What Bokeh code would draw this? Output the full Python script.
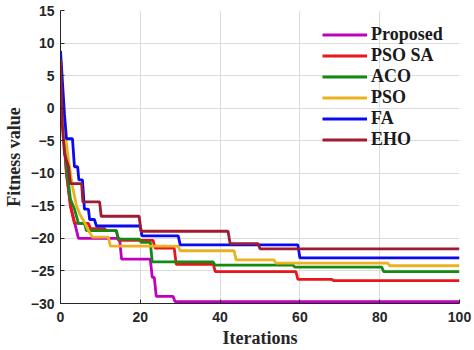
from bokeh.plotting import figure
from bokeh.models import Range1d, FixedTicker, Legend, LegendItem
from bokeh.embed import file_html
from bokeh.resources import INLINE

# ---- data ----
names = ["Proposed", "PSO SA", "ACO", "PSO", "FA", "EHO"]

proposed_x = [0, 0.7, 1.5, 2.5, 3.5, 4.5, 14.8, 15.3, 22.5, 23, 23.5, 24, 28.2, 28.7, 100]
proposed_y = [7.5, -3, -10, -15, -17.5, -20, -20, -23.2, -23.2, -26, -26, -28.9, -28.9, -29.7, -29.7]

psosa_x = [0, 0.6, 1.5, 2.5, 3.5, 7, 7.5, 11, 11.5, 14, 14.5, 23.2, 23.7, 28.5, 29, 38.3, 38.8, 59, 59.5, 68, 68.5, 100]
psosa_y = [8, -3, -10, -15, -17.7, -17.7, -18.5, -18.5, -18.8, -18.8, -20.3, -20.3, -21.5, -21.5, -24.0, -24.0, -25.1, -25.1, -26.3, -26.3, -26.5, -26.5]

aco_x = [0, 0.7, 1.5, 2.5, 3.5, 4.5, 6, 6.5, 14, 14.5, 19.7, 20.2, 22.5, 23, 38.2, 38.7, 58.2, 58.7, 80.5, 81, 100]
aco_y = [6, -3, -9, -14, -15.5, -17.7, -17.7, -18.8, -18.8, -20.1, -20.1, -20.6, -20.6, -23.6, -23.6, -24.1, -24.1, -24.4, -24.4, -25.1, -25.1]

pso_x = [0, 1, 2, 3, 4, 5, 6, 7, 8, 12, 12.5, 29.5, 30, 43.5, 44, 53.5, 54, 82, 82.5, 100]
pso_y = [7, -3, -8, -12, -15, -16.5, -17.5, -18.8, -19.8, -19.8, -21.2, -21.2, -21.9, -21.9, -23.3, -23.3, -23.8, -23.8, -24.2, -24.2]

fa_x = [0, 1, 1.5, 3, 3.5, 4.3, 4.6, 5.5, 6, 7, 7.3, 8.5, 9, 20, 20.4, 29.5, 30, 59.5, 60, 100]
fa_y = [8.8, -1, -4.7, -4.7, -9, -9, -11, -11, -15.5, -15.5, -17.1, -17.1, -18.1, -18.1, -19.6, -19.6, -21.0, -21.0, -23.0, -23.0]

eho_x = [0, 0.5, 1, 2, 2.5, 5.3, 5.6, 9.8, 10.2, 19.7, 20.2, 42, 42.5, 49.5, 50, 100]
eho_y = [7.5, -3, -7, -9, -11.6, -11.6, -14.4, -14.4, -16.6, -16.6, -18.9, -18.9, -20.8, -20.8, -21.6, -21.6]

x_ticks = [0, 20, 40, 60, 80, 100]
y_ticks = [-30, -25, -20, -15, -10, -5, 0, 5, 10, 15]

series = [
    (proposed_x, proposed_y, "#BF00BF"),
    (psosa_x, psosa_y, "#E8161B"),
    (aco_x, aco_y, "#138A13"),
    (pso_x, pso_y, "#EDB120"),
    (fa_x, fa_y, "#0A0AF0"),
    (eho_x, eho_y, "#9E1B32"),
]

p = figure(width=474, height=350, output_backend="svg", toolbar_location=None,
           x_range=Range1d(0, 100), y_range=Range1d(-30, 15),
           min_border_left=55, min_border_right=15, min_border_top=10, min_border_bottom=47)
p.outline_line_color = None
p.background_fill_color = "white"
p.border_fill_color = "white"

items = []
for (xs, ys, col), name in zip(series, names):
    r = p.line(xs, ys, line_color=col, line_width=2.8)
    items.append(LegendItem(label=name, renderers=[r]))

for ax in (p.xaxis[0], p.yaxis[0]):
    ax.major_tick_in = 4
    ax.major_tick_out = 0
    ax.minor_tick_in = 0
    ax.minor_tick_out = 0
    ax.axis_line_color = "#262626"
    ax.major_tick_line_color = "#262626"
    ax.major_label_text_font = "Liberation Sans"
    ax.major_label_text_font_style = "bold"
    ax.major_label_text_font_size = "14px"
    ax.major_label_text_color = "#262626"
    ax.axis_label_text_font = "Liberation Serif"
    ax.axis_label_text_font_style = "bold"
    ax.axis_label_text_font_size = "18px"
    ax.axis_label_text_color = "#262626"

p.xaxis[0].ticker = FixedTicker(ticks=x_ticks)
p.yaxis[0].ticker = FixedTicker(ticks=y_ticks)
p.xaxis[0].axis_label = "Iterations"
p.yaxis[0].axis_label = "Fitness value"
p.xaxis[0].major_label_standoff = 8
p.yaxis[0].major_label_standoff = 6
p.xaxis[0].axis_label_standoff = 3
p.yaxis[0].axis_label_standoff = 4

for g in (p.xgrid[0], p.ygrid[0]):
    g.grid_line_color = "#dcdcdc"
    g.grid_line_width = 1

legend = Legend(items=items, location=(262, 153))
legend.background_fill_alpha = 0
legend.border_line_color = None
legend.padding = 0
legend.margin = 0
legend.spacing = 0
legend.glyph_width = 45
legend.glyph_height = 21
legend.label_height = 21
legend.label_standoff = 4
legend.label_text_font = "Liberation Serif"
legend.label_text_font_style = "bold"
legend.label_text_font_size = "18px"
legend.label_text_color = "#1a1a1a"
p.add_layout(legend, "center")

open("out.html", "w").write(file_html(p, INLINE))
